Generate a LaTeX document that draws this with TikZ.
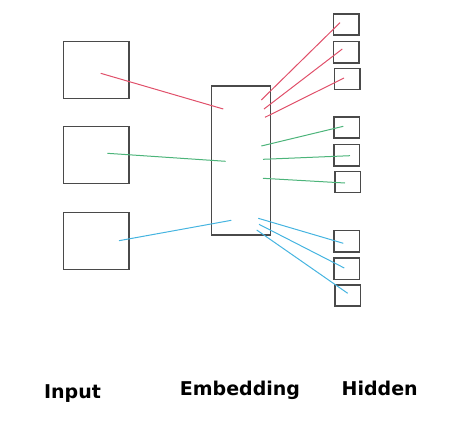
\documentclass[tikz,border=0pt]{standalone}
\usepackage{fontspec}
\usepackage{xcolor}
\usepackage{tikz}
\usetikzlibrary{positioning,calc}
\newfontfamily\labelfont{DejaVu Sans}
\definecolor{boxgray}{HTML}{4A4A4A}
\definecolor{redline}{HTML}{E0506A}
\definecolor{greenline}{HTML}{4CB47A}
\definecolor{blueline}{HTML}{45B4E0}

\begin{document}
\begin{tikzpicture}[x=1pt,y=-1pt,
    box/.style={draw=boxgray, line width=1.4pt, rectangle, inner sep=0pt},
    inbox/.style={box, minimum width=65.7pt, minimum height=56.6pt},
    hidbox/.style={box, minimum width=25.5pt, minimum height=21.3pt},
    link/.style={line width=1pt},
    lbl/.style={font=\labelfont\bfseries\fontsize{19}{22}\selectfont, anchor=base}]
    \useasboundingbox (0,0) rectangle (474,445);

    % Input boxes
    \node[inbox] (in1) at (96.2,70) {};
    \node[inbox] (in2) at (96.2,155) {};
    \node[inbox] (in3) at (96.2,241) {};

    % Embedding
    \node[box, minimum width=59.4pt, minimum height=149pt] (emb) at (241,160.5) {};

    % Hidden units
    \foreach \n/\x/\y in {1/346.2/24.5, 2/346.2/52.3, 3/347.2/79,
                          4/346.8/127.5, 5/346.8/155.2, 6/347.8/182,
                          7/346.8/241.3, 8/346.8/268.8, 9/347.8/295.5}
        \node[hidbox] (h\n) at (\x,\y) {};

    % Input -> embedding
    \coordinate (a1) at (100.7,73.3);  \coordinate (b1) at (223.3,109);
    \coordinate (a2) at (107.3,153.3); \coordinate (b2) at (225.7,161.3);
    \coordinate (a3) at (119,240.7);   \coordinate (b3) at (231.3,220.3);
    \draw[link, redline] (a1) -- (b1);
    \draw[link, greenline] (a2) -- (b2);
    \draw[link, blueline] (a3) -- (b3);

    % Embedding -> hidden
    \foreach \i/\sx/\sy/\tx/\ty/\c in {
        1/261.3/100/340/22.7/redline, 2/264/109/342.3/49/redline,
        3/265/117.3/344/78/redline,
        4/261.3/146/343.3/126.3/greenline, 5/263/159.3/350/155.7/greenline,
        6/263/178.3/345/183/greenline,
        7/258.3/218.3/343.3/243.3/blueline, 8/259/224.3/344.3/268/blueline,
        9/256.7/230/347.7/293.3/blueline}{
        \coordinate (s\i) at (\sx,\sy);
        \coordinate (t\i) at (\tx,\ty);
        \draw[link, color=\c] (s\i) -- (t\i);
    }

    % Labels
    \node[lbl] (inlbl) at (72.5,398) {Input};
    \node[lbl] (emblbl) at (240,395.7) {Embedding};
    \node[lbl] (hidlbl) at (379.7,395.7) {Hidden};
\end{tikzpicture}
\end{document}
